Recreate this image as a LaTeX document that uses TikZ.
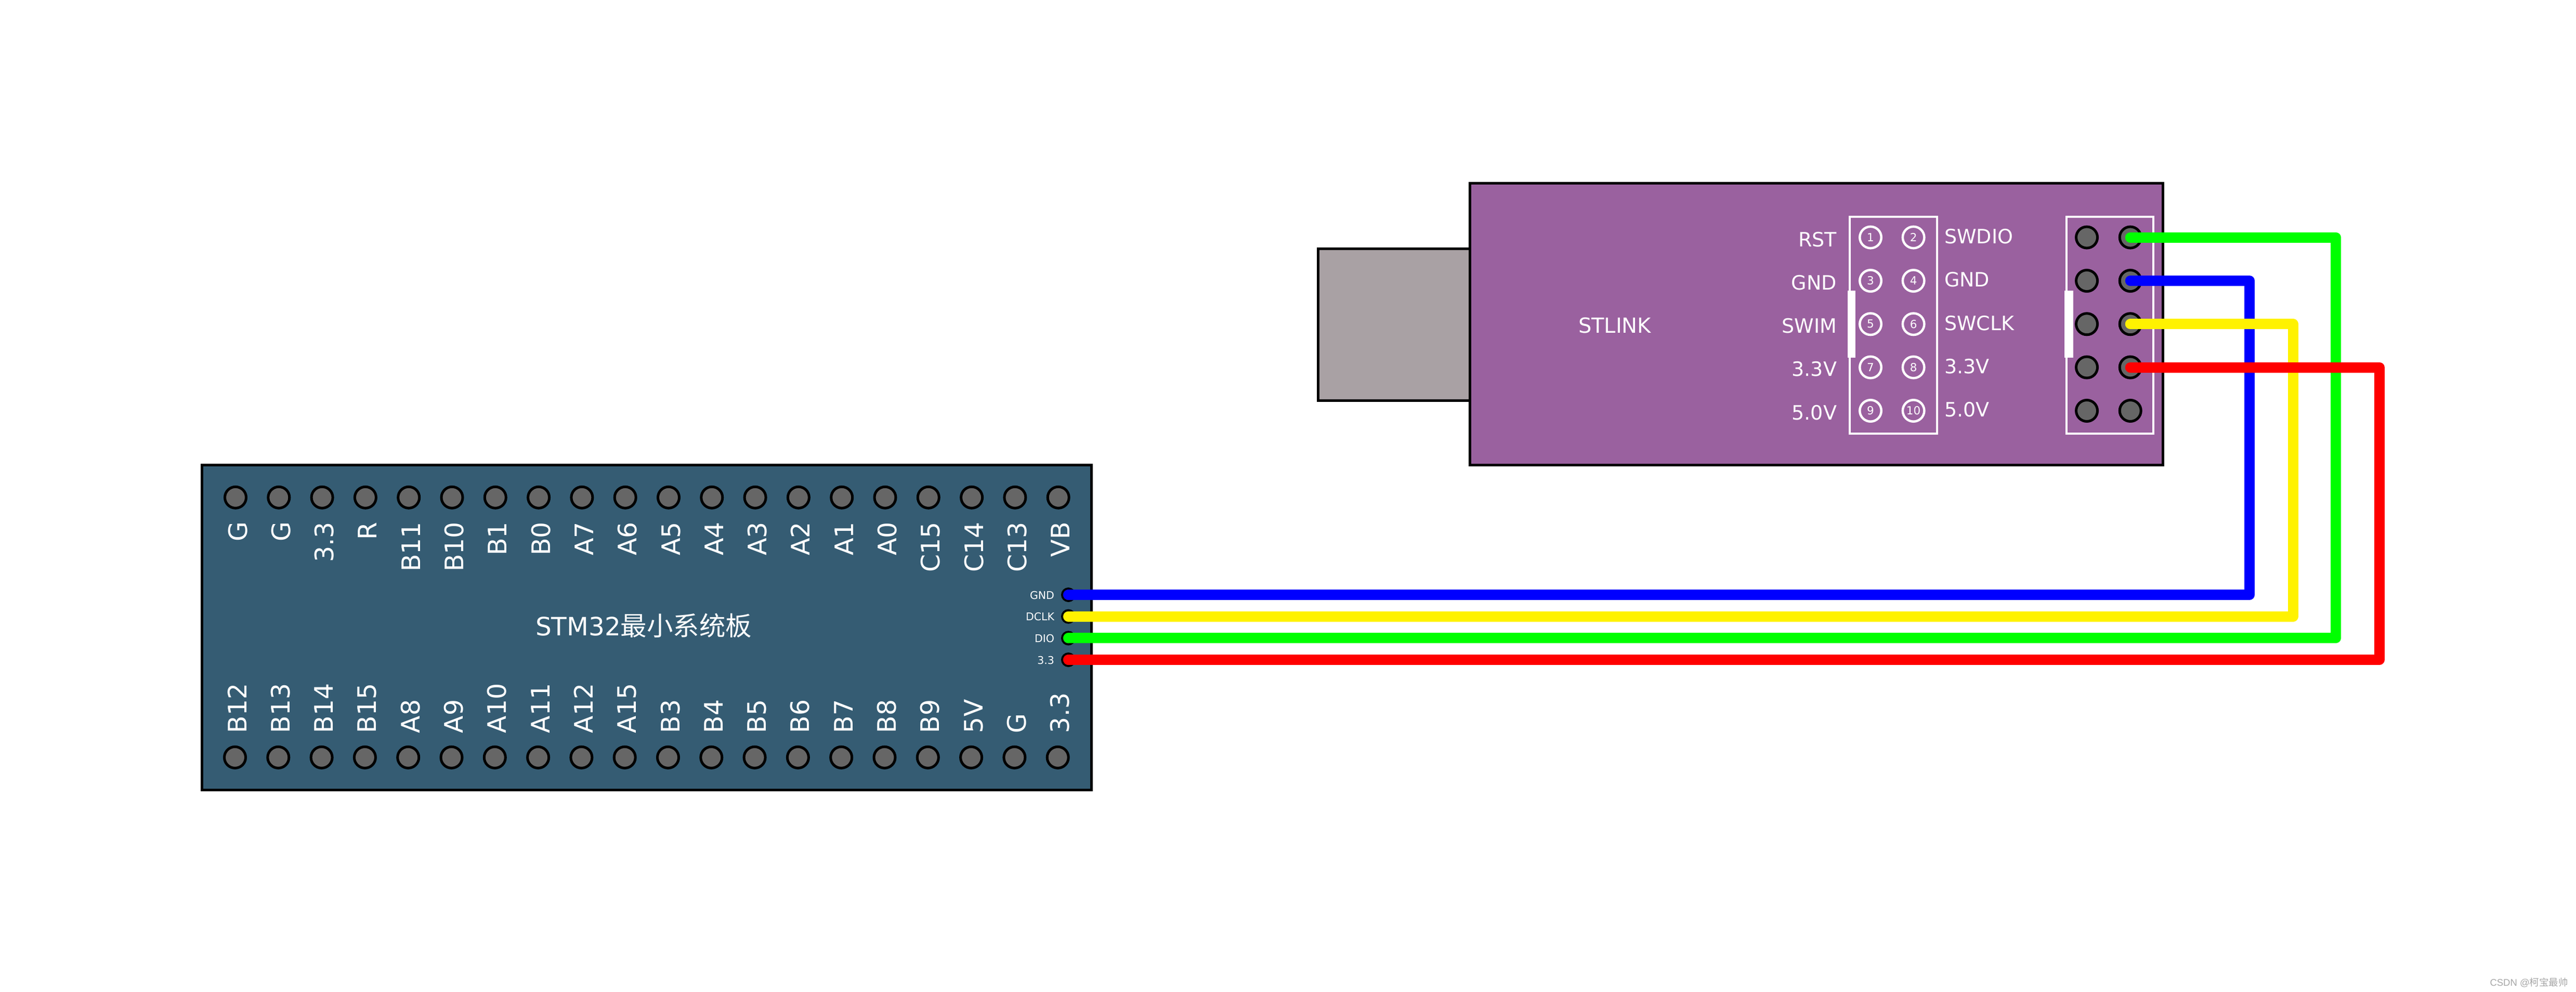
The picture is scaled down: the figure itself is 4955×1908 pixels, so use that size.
\documentclass[tikz,border=0pt]{standalone}
\usepackage{fontspec}
\setmainfont{DejaVu Sans}
\newfontfamily\cjk{Noto Sans CJK SC}
\newfontfamily\wmfont{Liberation Sans}
\definecolor{purpleboard}{HTML}{9A619F}
\definecolor{blueboard}{HTML}{355C73}
\definecolor{usbgray}{HTML}{A9A1A4}
\definecolor{pingray}{HTML}{666666}
\tikzset{
  board/.style={draw=black,line width=5pt},
  pin/.style={circle,draw=black,fill=pingray,line width=5pt,minimum size=41pt,inner sep=0pt,outer sep=0pt},
  smallpin/.style={circle,draw=black,fill=pingray,line width=4pt,minimum size=24pt,inner sep=0pt,outer sep=0pt},
  numpin/.style={circle,draw=white,line width=4.5pt,minimum size=41.5pt,inner sep=0pt,outer sep=0pt,text=white,font=\fontsize{21.5}{21.5}\selectfont},
  headerbox/.style={draw=white,line width=4pt},
  notch/.style={fill=white,draw=none},
  titlelabel/.style={text=white,inner sep=0pt,outer sep=0pt,font=\fontsize{40}{40}\selectfont},
  biglabel/.style={text=white,inner sep=0pt,outer sep=0pt,font=\fontsize{38}{38}\selectfont},
  pinlabel/.style={text=white,inner sep=0pt,outer sep=0pt,rotate=90,font=\fontsize{49}{49}\selectfont},
  tinylabel/.style={text=white,inner sep=0pt,outer sep=0pt,anchor=base east,font=\fontsize{20.5}{20.5}\selectfont},
  wire/.style={line width=20pt,line cap=round,line join=round},
}
\begin{document}
\begin{tikzpicture}[x=1pt,y=-1pt]
\useasboundingbox (0,0) rectangle (4955,1908);
% ---- STLINK ----
\node[board,fill=usbgray,minimum width=295pt,minimum height=292pt,inner sep=0pt,outer sep=0pt,anchor=north west] (usb) at (2535,478) {};
\node[board,fill=purpleboard,minimum width=1332.5pt,minimum height=541.5pt,inner sep=0pt,outer sep=0pt,anchor=north west] (stlink) at (2827.5,352.5) {};
\node[titlelabel,anchor=base] (stlinklabel) at (3106,640) {STLINK};
\node[headerbox,minimum width=167.5pt,minimum height=416.5pt,inner sep=0pt,anchor=north west] (boxa) at (3556,415) {};
\node[headerbox,minimum width=167pt,minimum height=416.5pt,inner sep=0pt,anchor=north west] (boxb) at (3973,415) {};
\fill[notch] (3554,559) rectangle (3569,688);
\fill[notch] (3971,559) rectangle (3987.5,688);
% numbered pins
\foreach \n/\x/\y in {1/3598/456.6,2/3680.6/456.6,3/3598/540,4/3680.6/540,5/3598/623.3,6/3680.6/623.3,7/3598/706.5,8/3680.6/706.5,9/3598/790,10/3680.6/790}
  \node[numpin] (num\n) at (\x,\y) {\n};
% left labels
\foreach \t/\nm/\y in {RST/la/474,GND/lb/557,SWIM/lc/640,3.3V/ld/723.5,5.0V/le/807}
  \node[biglabel,anchor=base east] (\nm) at (3533,\y) {\t};
% right labels
\foreach \t/\nm/\y in {SWDIO/ra/468.5,GND/rb/551.7,SWCLK/rc/635,3.3V/rd/718,5.0V/re/801}
  \node[biglabel,anchor=base west] (\nm) at (3740,\y) {\t};
% header pins
\foreach \k/\y in {1/456.6,2/540,3/623.3,4/706.5,5/790}{
  \node[pin] (ha\k) at (4014,\y) {};
  \node[pin] (hb\k) at (4097.7,\y) {};
}
% ---- STM32 board ----
\node[board,fill=blueboard,minimum width=1710.5pt,minimum height=625pt,inner sep=0pt,outer sep=0pt,anchor=north west] (stm) at (388.5,894) {};
\node[text=white,inner sep=0pt,outer sep=0pt,anchor=base west,font=\fontsize{48.5}{48.5}\selectfont] (stmlabel) at (1030,1222.5) {STM32{\cjk\fontsize{50.5}{50.5}\selectfont 最小系统板}};
\foreach \t [count=\i from 0] in {G,G,3.3,R,B11,B10,B1,B0,A7,A6,A5,A4,A3,A2,A1,A0,C15,C14,C13,VB}{
  \node[pin] (tp\i) at ({453+83.3*\i},956.8) {};
  \node[pinlabel,anchor=base east] (tl\i) at ({453+83.3*\i+22},1004) {\t};
}
\foreach \t [count=\i from 0] in {B12,B13,B14,B15,A8,A9,A10,A11,A12,A15,B3,B4,B5,B6,B7,B8,B9,5V,G,3.3}{
  \node[pin] (bp\i) at ({452+83.3*\i},1456.8) {};
  \node[pinlabel,anchor=base west] (bl\i) at ({452+83.3*\i+22},1410) {\t};
}
\foreach \nm/\t/\y/\b in {sa/GND/1144/1152,sb/DCLK/1185.7/1193.5,sc/DIO/1227.4/1235.5,sd/3.3/1269/1277}{
  \node[smallpin] (\nm) at (2055,\y) {};
  \node[tinylabel] (\nm l) at (2028,\b) {\t};
}
% ---- wires ----
\coordinate (xblue) at (4327,0);
\coordinate (xyellow) at (4410.7,0);
\coordinate (xgreen) at (4493,0);
\coordinate (xred) at (4576.7,0);
\draw[wire,blue] (hb2.center) -- (hb2.center -| xblue) -- (sa.center -| xblue) -- (sa.center);
\draw[wire,green] (hb1.center) -- (hb1.center -| xgreen) -- (sc.center -| xgreen) -- (sc.center);
\draw[wire,yellow] (hb3.center) -- (hb3.center -| xyellow) -- (sb.center -| xyellow) -- (sb.center);
\draw[wire,red] (hb4.center) -- (hb4.center -| xred) -- (sd.center -| xred) -- (sd.center);
% watermark
\node[text=black!35,inner sep=0pt,anchor=base east,font=\fontsize{18.5}{18.5}\wmfont\selectfont] (wm) at (4940,1896) {CSDN @{\cjk 柯宝最帅}};
\end{tikzpicture}
\end{document}
